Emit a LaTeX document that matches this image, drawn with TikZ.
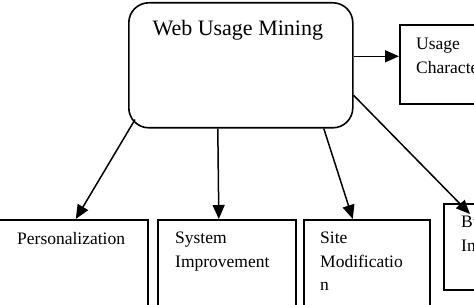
\documentclass[tikz,border=0pt]{standalone}
\usepackage{fontspec}
\setmainfont{Liberation Serif}
\usetikzlibrary{arrows.meta, positioning}

\begin{document}
\begin{tikzpicture}[x=1pt, y=1pt,
  box/.style={draw, line width=1.6pt, anchor=north west, inner sep=0pt},
  lbl/.style={anchor=north west, align=left, inner sep=0pt, font=\fontsize{17.5}{23.5}\selectfont},
  arr/.style={-{Triangle[length=14pt, width=12pt]}, line width=1.5pt}]
  \useasboundingbox (0,0) rectangle (474,305);
  \clip (0,0) rectangle (474,305);
  % main block
  \node[box, rounded corners=20pt, minimum width=224pt, minimum height=125pt] (web) at (128,303) {};
  \node[anchor=base, inner sep=0pt, font=\fontsize{22}{26}\selectfont] (webtxt) at ([xshift=-3pt, yshift=-34pt]web.north) {Web Usage Mining};
  % application blocks
  \node[box, minimum width=110pt, minimum height=79pt] (usage) at (399,281) {};
  \node[box, minimum width=161pt, minimum height=100pt] (pers) at (-14,86) {};
  \node[box, minimum width=138pt, minimum height=100pt] (sys) at (157,86) {};
  \node[box, minimum width=126pt, minimum height=100pt] (site) at (303,86) {};
  \node[box, minimum width=126pt, minimum height=86pt] (bi) at (443,102) {};
  \node[lbl] (usagetxt) at ([xshift=17pt, yshift=-14pt]usage.north west) {Usage\\Characterization};
  \node[lbl] (perstxt) at ([xshift=31pt, yshift=-13pt]pers.north west) {Personalization};
  \node[lbl] (systxt) at ([xshift=18pt, yshift=-13pt]sys.north west) {System\\Improvement};
  \node[lbl] (sitetxt) at ([xshift=17pt, yshift=-13pt]site.north west) {Site\\Modificatio\\n};
  \node[lbl] (bitxt) at ([xshift=18pt, yshift=-13pt]bi.north west) {Business\\Intelligence};
  % connectors
  \draw[arr] ([yshift=9pt]web.east) -- ([yshift=9pt]web.east -| usage.west);
  \draw[arr] ([xshift=7pt, yshift=9pt]web.south west) -- ([xshift=8.5pt]pers.north);
  \draw[arr] ([xshift=-23pt]web.south) -- ([xshift=-8pt]sys.north);
  \draw[arr] ([xshift=83pt]web.south) -- ([xshift=-14pt]site.north);
  \draw[arr] ([yshift=-30pt]web.east) -- ([xshift=27pt, yshift=-11pt]bi.north west);
\end{tikzpicture}
\end{document}
